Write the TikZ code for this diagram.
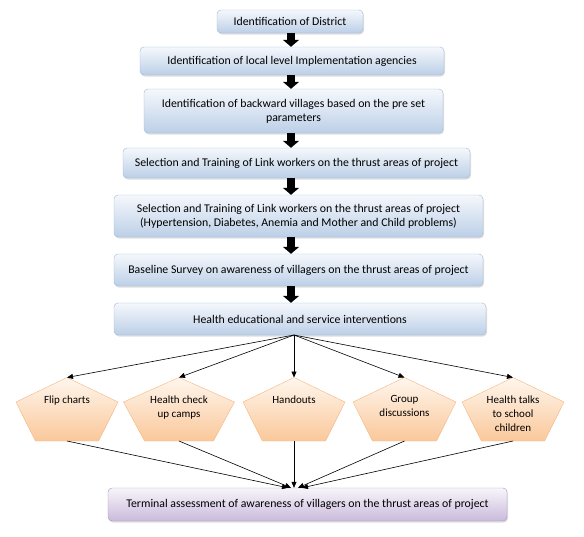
\documentclass[tikz,border=0pt]{standalone}
\usepackage{fontspec}
\setmainfont{Carlito}
\usetikzlibrary{arrows.meta,shadows}

\definecolor{boxtop}{HTML}{F5F8FC}
\definecolor{boxbot}{HTML}{BCCFE7}
\definecolor{boxline}{HTML}{9DB7DA}
\definecolor{penttop}{HTML}{FFF6EE}
\definecolor{pentbot}{HTML}{FAC89A}
\definecolor{pentline}{HTML}{F5B67F}
\definecolor{termtop}{HTML}{F8F5FB}
\definecolor{termbot}{HTML}{C9BADB}
\definecolor{termline}{HTML}{A894C2}

\begin{document}
\begin{tikzpicture}[
    x=1pt, y=-1pt,
    font=\fontsize{11.8}{14}\selectfont,
    box/.style={draw=boxline, top color=boxtop, bottom color=boxbot,
        rounded corners=4pt, align=center, inner sep=0pt,
        drop shadow={opacity=0.25, shadow xshift=1pt, shadow yshift=-1.5pt}},
    termbox/.style={box, draw=termline, top color=termtop, bottom color=termbot},
    pentbox/.style={draw=pentline, top color=penttop, bottom color=pentbot,
        line join=miter},
    penttext/.style={align=center, anchor=north, inner sep=0pt,
        font=\fontsize{11}{14}\selectfont},
    bigarrow/.style={line width=8pt, -{Triangle[length=7pt, width=16pt]}},
    thinarrow/.style={semithick, -{Stealth[inset=0pt, length=6pt, width=5pt]}}
]
\useasboundingbox (0,0) rectangle (584,536);

% main steps
\node (district) [box,
    minimum width=146pt,
    minimum height=23pt
] at (290,21.5) {Identification of District};

\node (agencies) [box,
    minimum width=304pt,
    minimum height=28pt
] at (292,61) {Identification of local level Implementation agencies};

\node (villages) [box,
    minimum width=299pt,
    minimum height=44pt
] at (293.5,111) {Identification of backward villages based on the pre set\\parameters};

\node (training) [box,
    minimum width=347pt,
    minimum height=30pt
] at (296.5,163) {Selection and Training of Link workers on the thrust areas of project};

\node (trainingb) [box,
    minimum width=369pt,
    minimum height=42pt
] at (298.5,216) {Selection and Training of Link workers on the thrust areas of project\\(Hypertension, Diabetes, Anemia and Mother and Child problems)};

\node (baseline) [box,
    minimum width=369pt,
    minimum height=32pt
] at (298.5,270) {Baseline Survey on awareness of villagers on the thrust areas of project};

\node (health) [box,
    minimum width=372pt,
    minimum height=32pt
] at (300,319) {Health educational and service interventions};

% thick arrows
\coordinate (ax) at (291,0);
\draw [bigarrow] (ax |- district.south) -- (ax |- agencies.north);
\draw [bigarrow] (ax |- agencies.south) -- (ax |- villages.north);
\draw [bigarrow] (ax |- villages.south) -- (ax |- training.north);
\draw [bigarrow] (ax |- training.south) -- (ax |- trainingb.north);
\draw [bigarrow] (ax |- trainingb.south) -- (ax |- baseline.north);
\draw [bigarrow] (ax |- baseline.south) -- (ax |- health.north);

%-------------------------------------
% final step
\node (terminal) [termbox,
    minimum width=399pt,
    minimum height=33pt
] at (307.5,504.5) {Terminal assessment of awareness of villagers on the thrust areas of project};

% interventions
\coordinate (hub) at (294,335);
\foreach \nm/\cx/\pw/\dx/\txt in {
    flip/67/102/-19.5/{Flip charts},
    camps/179/111/-16.5/{Health check\\up camps},
    handouts/294/102/-13.5/{Handouts},
    group/404.5/103/-9.5/{Group\\discussions},
    talks/513/102/-5.5/{Health talks\\to school\\children}}{
    \shadedraw [pentbox] (\cx,377.5) -- (\cx+\pw/2,402) -- (\cx+0.31*\pw,441)
        -- (\cx-0.31*\pw,441) -- (\cx-\pw/2,402) -- cycle;
    \node (\nm) [penttext] at (\cx,395.5) {\txt};
    \coordinate (\nm top) at (\cx,377.5);
    \coordinate (\nm bot) at (\cx,441);
    \draw [thinarrow] (hub) -- (\nm top);
    \draw [thinarrow] (\nm bot) -- ([xshift=\dx pt]terminal.north);
}

\end{tikzpicture}
\end{document}
